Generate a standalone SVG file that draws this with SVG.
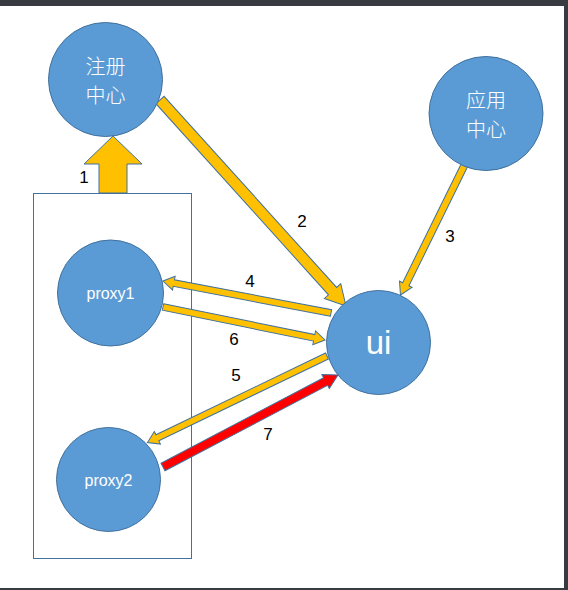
<svg xmlns="http://www.w3.org/2000/svg" width="568" height="590" viewBox="0 0 568 590">
<style>
.node{fill:#5b9bd5;stroke:#41719c;stroke-width:1}
.arr{fill:#ffc000;stroke:#41719c;stroke-width:1;stroke-linejoin:miter}
.red{fill:#ff0000;stroke:#41719c;stroke-width:1}
.cjk{font-family:"Noto Sans CJK SC","Liberation Sans",sans-serif;font-size:20px;font-weight:300;fill:#ffffff;text-anchor:middle}
.lat{font-family:"Liberation Sans",Arial,sans-serif;fill:#ffffff;text-anchor:middle}
.lbl{font-family:"Liberation Sans",Arial,sans-serif;font-size:17px;fill:#000000;text-anchor:middle}
</style>
<rect x="0" y="0" width="568" height="590" fill="#ffffff"/>
<rect x="0" y="0" width="568" height="6" fill="#383c41"/>
<rect x="564" y="0" width="4" height="590" fill="#383c41"/>
<rect x="0" y="588" width="568" height="2" fill="#383c41"/>

<g id="group-box">
<rect x="33.5" y="193.5" width="158" height="365" fill="none" stroke="#41719c" stroke-width="1"/>
</g>

<g id="connectors">
<polygon class="arr" points="99,193 99,164 84,164 113,136 142,164 127,164 127,193"/>
<polygon class="arr" transform="translate(160,100) rotate(47.92)" points="0,-5.5 257.5,-5.5 257.5,-11 277.5,0 257.5,11 257.5,5.5 0,5.5"/>
<polygon class="arr" transform="translate(466,162) rotate(116.22)" points="0,-3.5 136.3,-3.5 136.3,-7 148.3,0 136.3,7 136.3,3.5 0,3.5"/>
<polygon class="arr" transform="translate(331,313) rotate(190.78)" points="0,-3.3 160,-3.3 160,-7 171,0 160,7 160,3.3 0,3.3"/>
<polygon class="arr" transform="translate(163,307) rotate(11.51)" points="0,-3.3 154.3,-3.3 154.3,-7 165.3,0 154.3,7 154.3,3.3 0,3.3"/>
<polygon class="arr" transform="translate(327,356) rotate(154.27)" points="0,-3.3 188.3,-3.3 188.3,-7 199.3,0 188.3,7 188.3,3.3 0,3.3"/>
<polygon class="red" transform="translate(163,467) rotate(-27.73)" points="0,-4.3 183.7,-4.3 183.7,-8 197.7,0 183.7,8 183.7,4.3 0,4.3"/>
<text class="lbl" x="84" y="183">1</text>
<text class="lbl" x="302" y="227">2</text>
<text class="lbl" x="450" y="242">3</text>
<text class="lbl" x="250" y="287">4</text>
<text class="lbl" x="234" y="345">6</text>
<text class="lbl" x="236" y="381">5</text>
<text class="lbl" x="268" y="440">7</text>
</g>

<g id="node-registry">
<circle class="node" cx="105.5" cy="79.5" r="57"/>
<text class="cjk" x="105.5" y="74">注册</text>
<text class="cjk" x="105.5" y="103">中心</text>
</g>

<g id="node-appcenter">
<circle class="node" cx="486" cy="113.5" r="57"/>
<text class="cjk" x="486" y="108">应用</text>
<text class="cjk" x="486" y="137">中心</text>
</g>

<g id="node-proxy1">
<circle class="node" cx="110.5" cy="293" r="53"/>
<text class="lat" x="110.5" y="299" font-size="16">proxy1</text>
</g>

<g id="node-proxy2">
<circle class="node" cx="108.5" cy="479.5" r="52"/>
<text class="lat" x="108.5" y="485.5" font-size="16">proxy2</text>
</g>

<g id="node-ui">
<circle class="node" cx="378.5" cy="342.5" r="52"/>
<text class="lat" x="378.5" y="354" font-size="33">ui</text>
</g>
</svg>
